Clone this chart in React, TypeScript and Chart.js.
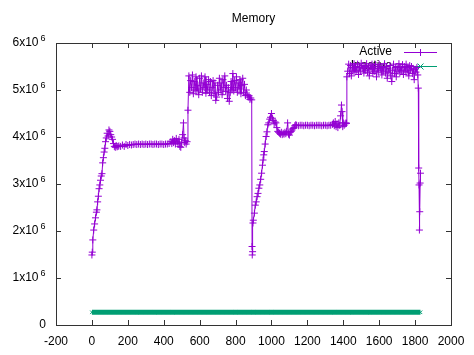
import React, { useEffect, useRef } from "react";
import { Chart, registerables } from "chart.js";

Chart.register(...registerables);

const TITLE = "Memory";
const SERIES_NAMES = ["Active", "Inactive"];

// Active memory samples (time, bytes)
const activeTimes = [
  0, 2, 5, 10, 15, 20, 25, 28, 32, 36, 40, 44, 48, 52, 56, 60, 64, 68, 72, 76, 80, 85, 90, 95, 100, 105, 110, 115, 120, 125, 130, 135, 140, 145,
  150, 160, 170, 180, 190, 200, 210, 220, 230, 240, 250, 260, 270, 280, 290, 300, 310, 320, 330, 340, 350, 360, 370, 380, 390, 400, 410, 420, 430,
  440, 445, 450, 455, 460, 465, 470, 475, 480, 485, 490, 495, 500, 505, 510, 513, 517, 520, 525, 530, 535,
  540, 545, 550, 555, 560, 565, 570, 575, 580, 585, 590, 595, 600, 605, 610, 615, 620, 625, 630, 635, 640, 645, 650, 655, 660, 665, 670, 675, 680, 685,
  690, 695, 700, 705, 710, 715, 720, 725, 730, 735, 740, 745, 750, 755, 760, 765, 770, 775, 780, 785, 790, 795, 800, 805, 810, 815, 820, 825, 830, 835,
  840, 845, 850, 855, 860, 865, 870, 875, 880, 885, 890, 892, 893, 895, 897, 899,
  905, 910, 915, 920, 925, 930, 935, 940, 945, 950, 953, 957, 960, 965, 970, 975, 980, 985, 990, 995, 1000, 1005, 1010, 1015, 1020, 1025, 1030, 1035,
  1040, 1045, 1050, 1055, 1060, 1065, 1070, 1075, 1080, 1085, 1090, 1095, 1100, 1105, 1110, 1115, 1120, 1125, 1130, 1135,
  1140, 1150, 1160, 1170, 1180, 1190, 1200, 1210, 1220, 1230, 1240, 1250, 1260, 1270, 1280, 1290, 1300, 1310, 1320, 1330, 1340,
  1345, 1350, 1355, 1360, 1365, 1370, 1375, 1380, 1385, 1390, 1393, 1397, 1400, 1405, 1410, 1415, 1418, 1420,
  1425, 1430, 1435, 1440, 1445, 1450, 1455, 1460, 1465, 1470, 1475, 1480, 1485, 1490, 1495, 1500, 1505, 1510, 1515, 1520, 1525, 1530, 1535, 1540,
  1545, 1550, 1555, 1560, 1565, 1570, 1575, 1580, 1585, 1590, 1595, 1600, 1605, 1610, 1615, 1620, 1625, 1630, 1635, 1640, 1645, 1650, 1655, 1660,
  1665, 1670, 1675, 1680, 1685, 1690, 1695, 1700, 1705, 1710, 1715, 1720, 1725, 1730, 1735, 1740, 1745, 1750, 1755, 1760, 1765, 1770, 1775, 1780,
  1785, 1790, 1795, 1800, 1805, 1810, 1815, 1818, 1820, 1822, 1824, 1826, 1828, 1830,
];

const activeValues = [
  1.49e6, 1.55e6, 1.81e6, 2.02e6, 2.15e6, 2.28e6, 2.4e6, 2.45e6, 2.62e6, 2.74e6, 2.9e6, 2.98e6, 3.08e6, 3.17e6, 3.22e6, 3.45e6, 3.56e6, 3.68e6, 3.76e6, 3.9e6, 3.98e6, 4.08e6, 4.02e6, 4.15e6, 4.12e6, 4.05e6, 4.0e6, 3.95e6, 3.86e6, 3.8e6, 3.78e6, 3.82e6, 3.79e6, 3.8e6,
  3.81e6, 3.8e6, 3.83e6, 3.8e6, 3.84e6, 3.82e6, 3.84e6, 3.83e6, 3.84e6, 3.85e6, 3.84e6, 3.85e6, 3.84e6, 3.85e6, 3.84e6, 3.85e6, 3.84e6, 3.85e6, 3.85e6, 3.84e6, 3.85e6, 3.85e6, 3.84e6, 3.85e6, 3.85e6, 3.84e6, 3.85e6, 3.85e6, 3.86e6,
  3.9e6, 3.86e6, 3.95e6, 3.88e6, 3.92e6, 3.85e6, 3.97e6, 3.9e6, 3.86e6, 3.95e6, 3.8e6, 3.78e6, 3.88e6, 4.05e6, 4.3e6, 3.98e6, 3.88e6, 3.92e6, 3.85e6, 3.9e6, 4.57e6,
  5.3e6, 4.95e6, 5.2e6, 5.05e6, 5.32e6, 4.92e6, 5.18e6, 5.0e6, 5.28e6, 4.98e6, 5.1e6, 4.9e6, 5.25e6, 5.02e6, 5.3e6, 4.95e6, 5.15e6, 5.05e6, 5.28e6, 4.93e6, 5.12e6, 5.0e6, 5.22e6, 4.95e6, 5.18e6, 4.88e6, 5.05e6, 5.2e6, 4.92e6, 5.15e6,
  4.78e6, 4.85e6, 5.1e6, 4.95e6, 5.25e6, 5.0e6, 5.15e6, 4.9e6, 5.22e6, 5.05e6, 5.3e6, 4.97e6, 5.1e6, 4.82e6, 5.05e6, 4.76e6, 4.95e6, 5.18e6, 5.0e6, 5.35e6, 4.98e6, 5.2e6, 5.05e6, 5.28e6, 4.95e6, 5.15e6, 5.02e6, 5.22e6, 4.92e6, 5.1e6,
  5.25e6, 4.95e6, 5.12e6, 4.88e6, 5.0e6, 4.9e6, 4.85e6, 4.88e6, 4.8e6, 4.83e6, 4.79e6, 1.67e6, 1.49e6, 1.56e6, 2.17e6, 2.23e6,
  2.38e6, 2.55e6, 2.62e6, 2.73e6, 2.8e6, 2.91e6, 2.98e6, 3.1e6, 3.23e6, 3.4e6, 3.51e6, 3.62e6, 3.69e6, 3.85e6, 4.01e6, 4.11e6, 4.26e6, 4.3e6, 4.38e6, 4.42e6, 4.5e6, 4.4e6, 4.35e6, 4.28e6, 4.32e6, 4.3e6, 4.2e6, 4.12e6,
  4.1e6, 4.08e6, 4.06e6, 4.1e6, 4.05e6, 4.08e6, 4.06e6, 4.1e6, 4.07e6, 4.12e6, 4.3e6, 4.06e6, 4.04e6, 4.1e6, 4.12e6, 4.15e6, 4.18e6, 4.2e6, 4.24e6, 4.26e6,
  4.25e6, 4.24e6, 4.25e6, 4.25e6, 4.24e6, 4.25e6, 4.25e6, 4.24e6, 4.25e6, 4.25e6, 4.24e6, 4.25e6, 4.25e6, 4.25e6, 4.24e6, 4.25e6, 4.25e6, 4.24e6, 4.25e6, 4.25e6, 4.27e6,
  4.3e6, 4.24e6, 4.33e6, 4.22e6, 4.28e6, 4.2e6, 4.3e6, 4.25e6, 4.45e6, 4.68e6, 4.54e6, 4.22e6, 4.3e6, 4.25e6, 4.28e6, 4.3e6, 4.29e6, 5.28e6,
  5.4e6, 5.55e6, 5.35e6, 5.52e6, 5.3e6, 5.48e6, 5.4e6, 5.56e6, 5.38e6, 5.5e6, 5.42e6, 5.55e6, 5.33e6, 5.48e6, 5.4e6, 5.57e6, 5.45e6, 5.52e6, 5.36e6, 5.5e6, 5.42e6, 5.56e6, 5.38e6, 5.48e6,
  5.3e6, 5.52e6, 5.44e6, 5.55e6, 5.35e6, 5.5e6, 5.4e6, 5.54e6, 5.28e6, 5.46e6, 5.38e6, 5.55e6, 5.42e6, 5.5e6, 5.32e6, 5.48e6, 5.4e6, 5.56e6, 5.36e6, 5.5e6, 5.25e6, 5.45e6, 5.38e6, 5.52e6,
  5.3e6, 5.18e6, 5.42e6, 5.55e6, 5.35e6, 5.48e6, 5.28e6, 5.5e6, 5.4e6, 5.56e6, 5.36e6, 5.48e6, 5.42e6, 5.54e6, 5.33e6, 5.5e6, 5.4e6, 5.55e6, 5.38e6, 5.48e6, 5.3e6, 5.52e6, 5.42e6, 5.5e6,
  5.35e6, 5.46e6, 5.22e6, 5.44e6, 5.38e6, 5.48e6, 5.32e6, 5.04e6, 3.34e6, 2.98e6, 2.02e6, 2.41e6, 3.02e6, 3.23e6,
];

// Inactive memory samples (time, bytes)
const inactiveTimes = [
  0, 50, 100, 150, 200, 250, 300, 350, 400, 450, 500, 550, 600, 650, 700, 750, 800, 850, 900,
  950, 1000, 1050, 1100, 1150, 1200, 1250, 1300, 1350, 1400, 1450, 1500, 1550, 1600, 1650, 1700, 1750, 1800, 1830,
];
const inactiveValues = [
  2.7e5, 2.7e5, 2.7e5, 2.7e5, 2.7e5, 2.7e5, 2.7e5, 2.7e5, 2.7e5, 2.7e5, 2.7e5, 2.7e5, 2.7e5, 2.7e5, 2.7e5, 2.7e5, 2.7e5, 2.7e5, 2.7e5,
  2.7e5, 2.7e5, 2.7e5, 2.7e5, 2.7e5, 2.7e5, 2.7e5, 2.7e5, 2.7e5, 2.7e5, 2.7e5, 2.7e5, 2.7e5, 2.7e5, 2.7e5, 2.7e5, 2.7e5, 2.7e5, 2.7e5,
];

const xTicks = [-200, 0, 200, 400, 600, 800, 1000, 1200, 1400, 1600, 1800, 2000];
const yTicks = [0, 1e6, 2e6, 3e6, 4e6, 5e6, 6e6];
const yTickMantissas = ["0", "1", "2", "3", "4", "5", "6"];
const yTickExponent = "6";

const ACTIVE_COLOR = "#9400d3";
const INACTIVE_COLOR = "#009e73";
const FONT_FAMILY = '"Liberation Sans", Arial, sans-serif';

function drawPlus(ctx: CanvasRenderingContext2D, x: number, y: number, r: number) {
  ctx.beginPath();
  ctx.moveTo(x - r, y);
  ctx.lineTo(x + r, y);
  ctx.moveTo(x, y - r);
  ctx.lineTo(x, y + r);
  ctx.stroke();
}

function drawX(ctx: CanvasRenderingContext2D, x: number, y: number, r: number) {
  ctx.beginPath();
  ctx.moveTo(x - r, y - r);
  ctx.lineTo(x + r, y + r);
  ctx.moveTo(x - r, y + r);
  ctx.lineTo(x + r, y - r);
  ctx.stroke();
}

const gnuplotFrame = {
  id: "gnuplotFrame",
  beforeDatasetsDraw(chart: any) {
    const ctx: CanvasRenderingContext2D = chart.ctx;
    ctx.save();
    ctx.font = `12px ${FONT_FAMILY}`;
    ctx.fillStyle = "#000";
    ctx.textAlign = "right";
    ctx.textBaseline = "middle";
    const rows = [
      { y: 52, color: ACTIVE_COLOR, mark: "plus" },
      { y: 66, color: INACTIVE_COLOR, mark: "x" },
    ];
    rows.forEach((row, i) => {
      ctx.fillStyle = "#000";
      ctx.fillText(SERIES_NAMES[i], 392, row.y);
      ctx.strokeStyle = row.color;
      ctx.lineWidth = 1;
      ctx.beginPath();
      ctx.moveTo(404, row.y + 0.5);
      ctx.lineTo(437, row.y + 0.5);
      ctx.stroke();
      if (row.mark === "plus") drawPlus(ctx, 420.5, row.y + 0.5, 3.5);
      else drawX(ctx, 420.5, row.y + 0.5, 3);
    });
    ctx.restore();
  },
  afterDatasetsDraw(chart: any) {
    const ctx: CanvasRenderingContext2D = chart.ctx;
    const area = chart.chartArea;
    const xs = chart.scales.x;
    const ys = chart.scales.y;
    ctx.save();
    ctx.strokeStyle = "#333";
    ctx.lineWidth = 1;
    ctx.strokeRect(area.left + 0.5, area.top + 0.5, area.right - area.left, area.bottom - area.top);
    const tl = 5;
    ctx.beginPath();
    xTicks.forEach((v) => {
      const px = Math.round(xs.getPixelForValue(v)) + 0.5;
      ctx.moveTo(px, area.bottom);
      ctx.lineTo(px, area.bottom - tl);
      ctx.moveTo(px, area.top);
      ctx.lineTo(px, area.top + tl);
    });
    yTicks.forEach((v) => {
      const py = Math.round(ys.getPixelForValue(v)) + 0.5;
      ctx.moveTo(area.left, py);
      ctx.lineTo(area.left + tl, py);
      ctx.moveTo(area.right, py);
      ctx.lineTo(area.right - tl, py);
    });
    ctx.stroke();

    ctx.fillStyle = "#000";
    ctx.font = `12px ${FONT_FAMILY}`;
    ctx.textBaseline = "middle";
    ctx.textAlign = "center";
    xTicks.forEach((v) => {
      ctx.fillText(String(v), xs.getPixelForValue(v), area.bottom + 17);
    });

    yTicks.forEach((v, i) => {
      const py = ys.getPixelForValue(v);
      if (v === 0) {
        ctx.font = `12px ${FONT_FAMILY}`;
        ctx.textAlign = "right";
        ctx.fillText("0", 46, py);
      } else {
        ctx.font = `12px ${FONT_FAMILY}`;
        ctx.textAlign = "right";
        ctx.fillText(`${yTickMantissas[i]}x10`, 38.5, py);
        ctx.font = `9px ${FONT_FAMILY}`;
        ctx.textAlign = "left";
        ctx.fillText(yTickExponent, 40.5, py - 4);
      }
    });

    ctx.font = `12px ${FONT_FAMILY}`;
    ctx.textAlign = "center";
    ctx.fillText(TITLE, (area.left + area.right) / 2, 19);
    ctx.restore();
  },
};

export default function App() {
  const canvasRef = useRef<HTMLCanvasElement | null>(null);

  useEffect(() => {
    const canvas = canvasRef.current;
    if (!canvas) return;
    const chart = new Chart(canvas, {
      type: "line",
      data: {
        datasets: [
          {
            label: SERIES_NAMES[0],
            data: activeTimes.map((t, i) => ({ x: t, y: activeValues[i] })),
            borderColor: ACTIVE_COLOR,
            backgroundColor: ACTIVE_COLOR,
            borderWidth: 1,
            pointStyle: "cross",
            pointRadius: 3.5,
            pointBorderWidth: 1,
            pointBorderColor: ACTIVE_COLOR,
            tension: 0,
            fill: false,
          },
          {
            label: SERIES_NAMES[1],
            data: inactiveTimes.map((t, i) => ({ x: t, y: inactiveValues[i] })),
            borderColor: INACTIVE_COLOR,
            backgroundColor: INACTIVE_COLOR,
            borderWidth: 5,
            pointStyle: "crossRot",
            pointRadius: 2.5,
            pointBorderWidth: 1,
            pointBorderColor: INACTIVE_COLOR,
            tension: 0,
            fill: false,
          },
        ],
      },
      options: {
        responsive: false,
        animation: false,
        events: [],
        layout: { padding: { left: 56, top: 43, right: 23, bottom: 30 } },
        scales: {
          x: { type: "linear", display: false, min: -200, max: 2000 },
          y: { type: "linear", display: false, min: 0, max: 6e6 },
        },
        plugins: {
          legend: { display: false },
          title: { display: false },
          tooltip: { enabled: false },
        },
      },
      plugins: [gnuplotFrame],
    });
    return () => chart.destroy();
  }, []);

  return (
    <div style={{ position: "fixed", left: 0, top: 0, width: 474, height: 355, background: "#fff" }}>
      <canvas ref={canvasRef} width={474} height={355} style={{ width: 474, height: 355, display: "block" }} />
    </div>
  );
}
